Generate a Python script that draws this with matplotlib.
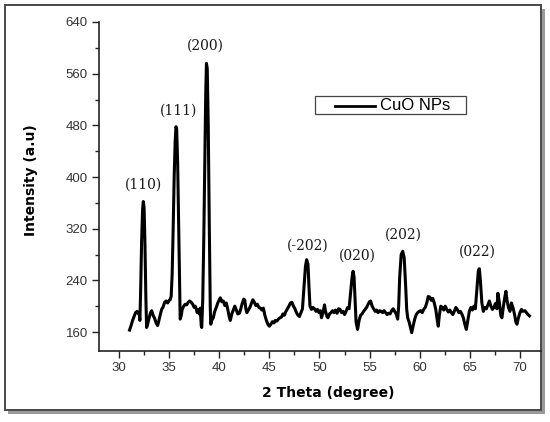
import numpy as np
import matplotlib
matplotlib.use('Agg')
import matplotlib.pyplot as plt
from matplotlib.patches import Rectangle
from matplotlib.lines import Line2D
from matplotlib.ticker import MultipleLocator

# XRD pattern
two_theta = [31.05, 31.2, 31.35, 31.5, 31.65, 31.8, 31.9, 32.0, 32.08, 32.15,
             32.25, 32.35, 32.42, 32.5, 32.58, 32.68, 32.75, 32.85, 33.0, 33.15,
             33.25, 33.4, 33.55, 33.7, 33.85, 33.95, 34.1, 34.25, 34.4, 34.55,
             34.7, 34.85, 35.0, 35.1, 35.2, 35.3, 35.4, 35.5, 35.6, 35.68,
             35.75, 35.85, 35.95, 36.05, 36.1, 36.2, 36.3, 36.45, 36.6, 36.75,
             36.9, 37.05, 37.2, 37.35, 37.5, 37.6, 37.7, 37.8, 37.9, 38.0,
             38.1, 38.2, 38.25, 38.35, 38.45, 38.55, 38.65, 38.72, 38.8, 38.9,
             39.0, 39.1, 39.15, 39.25, 39.4, 39.55, 39.7, 39.85, 40.0, 40.1,
             40.25, 40.4, 40.55, 40.7, 40.85, 41.0, 41.1, 41.25, 41.4, 41.55,
             41.7, 41.85, 42.0, 42.15, 42.3, 42.45, 42.55, 42.65, 42.75, 42.9,
             43.05, 43.2, 43.35, 43.5, 43.65, 43.8, 43.95, 44.1, 44.25, 44.4,
             44.55, 44.7, 44.85, 45.0, 45.15, 45.3, 45.45, 45.6, 45.75, 45.9,
             46.05, 46.2, 46.35, 46.5, 46.65, 46.8, 46.95, 47.1, 47.25, 47.4,
             47.55, 47.7, 47.85, 48.0, 48.15, 48.3, 48.45, 48.6, 48.72, 48.85,
             48.95, 49.05, 49.2, 49.35, 49.5, 49.65, 49.8, 49.95, 50.1, 50.2,
             50.35, 50.5, 50.6, 50.75, 50.85, 51.0, 51.15, 51.3, 51.45, 51.6,
             51.75, 51.9, 52.05, 52.2, 52.35, 52.5, 52.65, 52.8, 52.95, 53.1,
             53.25, 53.35, 53.45, 53.55, 53.65, 53.8, 53.95, 54.1, 54.25, 54.4,
             54.55, 54.7, 54.85, 55.0, 55.1, 55.25, 55.4, 55.55, 55.7, 55.85,
             56.0, 56.15, 56.3, 56.45, 56.6, 56.75, 56.9, 57.05, 57.2, 57.35,
             57.5, 57.65, 57.8, 57.9, 58.0, 58.15, 58.3, 58.45, 58.6, 58.7,
             58.8, 58.95, 59.1, 59.2, 59.35, 59.5, 59.65, 59.8, 59.95, 60.1,
             60.25, 60.4, 60.55, 60.7, 60.85, 61.0, 61.15, 61.3, 61.45, 61.6,
             61.75, 61.85, 61.95, 62.1, 62.25, 62.4, 62.55, 62.7, 62.85, 63.0,
             63.15, 63.3, 63.45, 63.6, 63.75, 63.9, 64.05, 64.2, 64.35, 64.5,
             64.65, 64.8, 64.95, 65.1, 65.25, 65.4, 65.55, 65.7, 65.85, 65.95,
             66.05, 66.2, 66.35, 66.5, 66.65, 66.8, 66.95, 67.1, 67.25, 67.4,
             67.55, 67.7, 67.8, 67.95, 68.1, 68.2, 68.35, 68.5, 68.6, 68.7,
             68.85, 69.0, 69.15, 69.3, 69.45, 69.6, 69.7, 69.85, 70.0, 70.15,
             70.3, 70.5, 70.65, 70.8, 70.95]

intensity = [163, 170, 178, 184, 190, 192, 189, 190, 178, 220,
             300, 350, 362, 352, 300, 210, 167, 172, 182, 190,
             193, 186, 181, 174, 170, 176, 186, 195, 199, 206,
             208, 205, 209, 210, 215, 250, 320, 400, 455, 478,
             474, 420, 320, 210, 180, 185, 195, 200, 203, 202,
             206, 208, 206, 203, 198, 200, 196, 190, 195, 188,
             197, 170, 167, 210, 300, 420, 530, 576, 568, 480,
             330, 200, 172, 178, 182, 192, 198, 205, 210, 213,
             207, 208, 201, 205, 195, 183, 178, 188, 194, 200,
             194, 188, 189, 196, 205, 211, 209, 196, 190, 194,
             198, 204, 210, 206, 201, 203, 198, 197, 194, 197,
             186, 178, 172, 169, 172, 176, 174, 178, 177, 180,
             182, 183, 188, 186, 192, 196, 200, 205, 206, 200,
             196, 190, 186, 184, 190, 196, 230, 262, 272, 265,
             230, 200, 195, 198, 196, 192, 195, 190, 193, 182,
             190, 202, 192, 184, 182, 188, 190, 193, 190, 194,
             189, 196, 195, 190, 192, 187, 192, 198, 196, 220,
             245, 254, 245, 210, 175, 164, 178, 186, 188, 192,
             195, 198, 203, 207, 208, 200, 196, 192, 194, 190,
             193, 192, 190, 193, 190, 187, 189, 188, 193, 196,
             192, 188, 180, 200, 245, 280, 285, 275, 230, 195,
             182, 175, 165, 159, 170, 180, 187, 190, 192, 193,
             190, 195, 198, 205, 215, 214, 209, 212, 205, 195,
             178, 169, 185, 200, 198, 194, 200, 195, 191, 194,
             190, 187, 192, 198, 195, 190, 192, 188, 182, 172,
             164, 178, 192, 198, 194, 200, 196, 225, 255, 258,
             240, 205, 192, 198, 196, 202, 208, 200, 195, 198,
             204, 196, 220, 205, 185, 182, 200, 215, 223, 210,
             198, 192, 205, 198, 188, 175, 172, 182, 190, 195,
             192, 193, 190, 187, 185]

peak_labels = ['(110)', '(111)', '(200)', '(-202)', '(020)', '(202)', '(022)']
peak_x = [32.4, 35.9, 38.6, 48.8, 53.8, 58.4, 65.8]
peak_y = [388, 502, 604, 294, 278, 310, 284]

W, H = 550, 422
fig = plt.figure(figsize=(W / 100, H / 100), dpi=100)
fig.patch.set_facecolor('white')

# figure frame with a shadow on the right and bottom
fig.patches.append(Rectangle((8 / W, 1 - 414 / H), 537 / W, 405 / H,
                             transform=fig.transFigure, facecolor='#9a9a9a',
                             edgecolor='none', zorder=-3))
fig.patches.append(Rectangle((5 / W, 1 - 410 / H), 536 / W, 405 / H,
                             transform=fig.transFigure, facecolor='white',
                             edgecolor='#4a4a4a', linewidth=1.4, zorder=-2))

ax = fig.add_axes([99 / W, 1 - 351 / H, 442 / W, 329 / H])
ax.set_zorder(1)
ax.set_facecolor('none')
ax.plot(two_theta, intensity, color='black', linewidth=2.2)

ax.set_xlim(28, 72.1)
ax.set_ylim(130.6, 640)
ax.set_xticks(np.arange(30, 71, 5))
ax.set_yticks(np.arange(160, 641, 80))
ax.xaxis.set_minor_locator(MultipleLocator(2.5))
ax.yaxis.set_minor_locator(MultipleLocator(40))

for side in ['top', 'right']:
    ax.spines[side].set_visible(False)
for side in ['left', 'bottom']:
    ax.spines[side].set_linewidth(1.2)
    ax.spines[side].set_color('#222222')

ax.tick_params(which='major', direction='out', length=5, width=1.0,
               color='#222222', labelsize=9.5, labelcolor='#333333', pad=3)
ax.tick_params(which='minor', direction='out', length=3, width=1.0,
               color='#222222')
for lab in ax.get_xticklabels() + ax.get_yticklabels():
    lab.set_fontfamily('Liberation Sans')

ax.set_xlabel('2 Theta (degree)', fontsize=10, fontweight='bold',
              fontfamily='DejaVu Sans', va='center')
ax.set_ylabel('Intensity (a.u)', fontsize=10, fontweight='bold',
              fontfamily='DejaVu Sans', va='center')
ax.xaxis.set_label_coords((328 - 99) / 442, -(393 - 351) / 329)
ax.yaxis.set_label_coords(-(99 - 31) / 442, (351 - 180) / 329)

for lab, x, y in zip(peak_labels, peak_x, peak_y):
    ax.text(x, y, lab, ha='center', va='center', fontsize=10,
            fontfamily='DejaVu Serif', color='#1a1a1a')

# legend box drawn in figure coordinates
fig.patches.append(Rectangle((315 / W, 1 - 114 / H), 151 / W, 18 / H,
                             transform=fig.transFigure, facecolor='white',
                             edgecolor='#444444', linewidth=0.9, zorder=3))
fig.lines.append(Line2D([335 / W, 375 / W], [1 - 106 / H, 1 - 106 / H],
                        transform=fig.transFigure, color='black',
                        linewidth=2.0, zorder=4))
fig.text(380 / W, 1 - 105.5 / H, 'CuO NPs', fontsize=12,
         fontfamily='Liberation Sans', va='center', ha='left', zorder=4)

fig.savefig('out.png', dpi=100)
